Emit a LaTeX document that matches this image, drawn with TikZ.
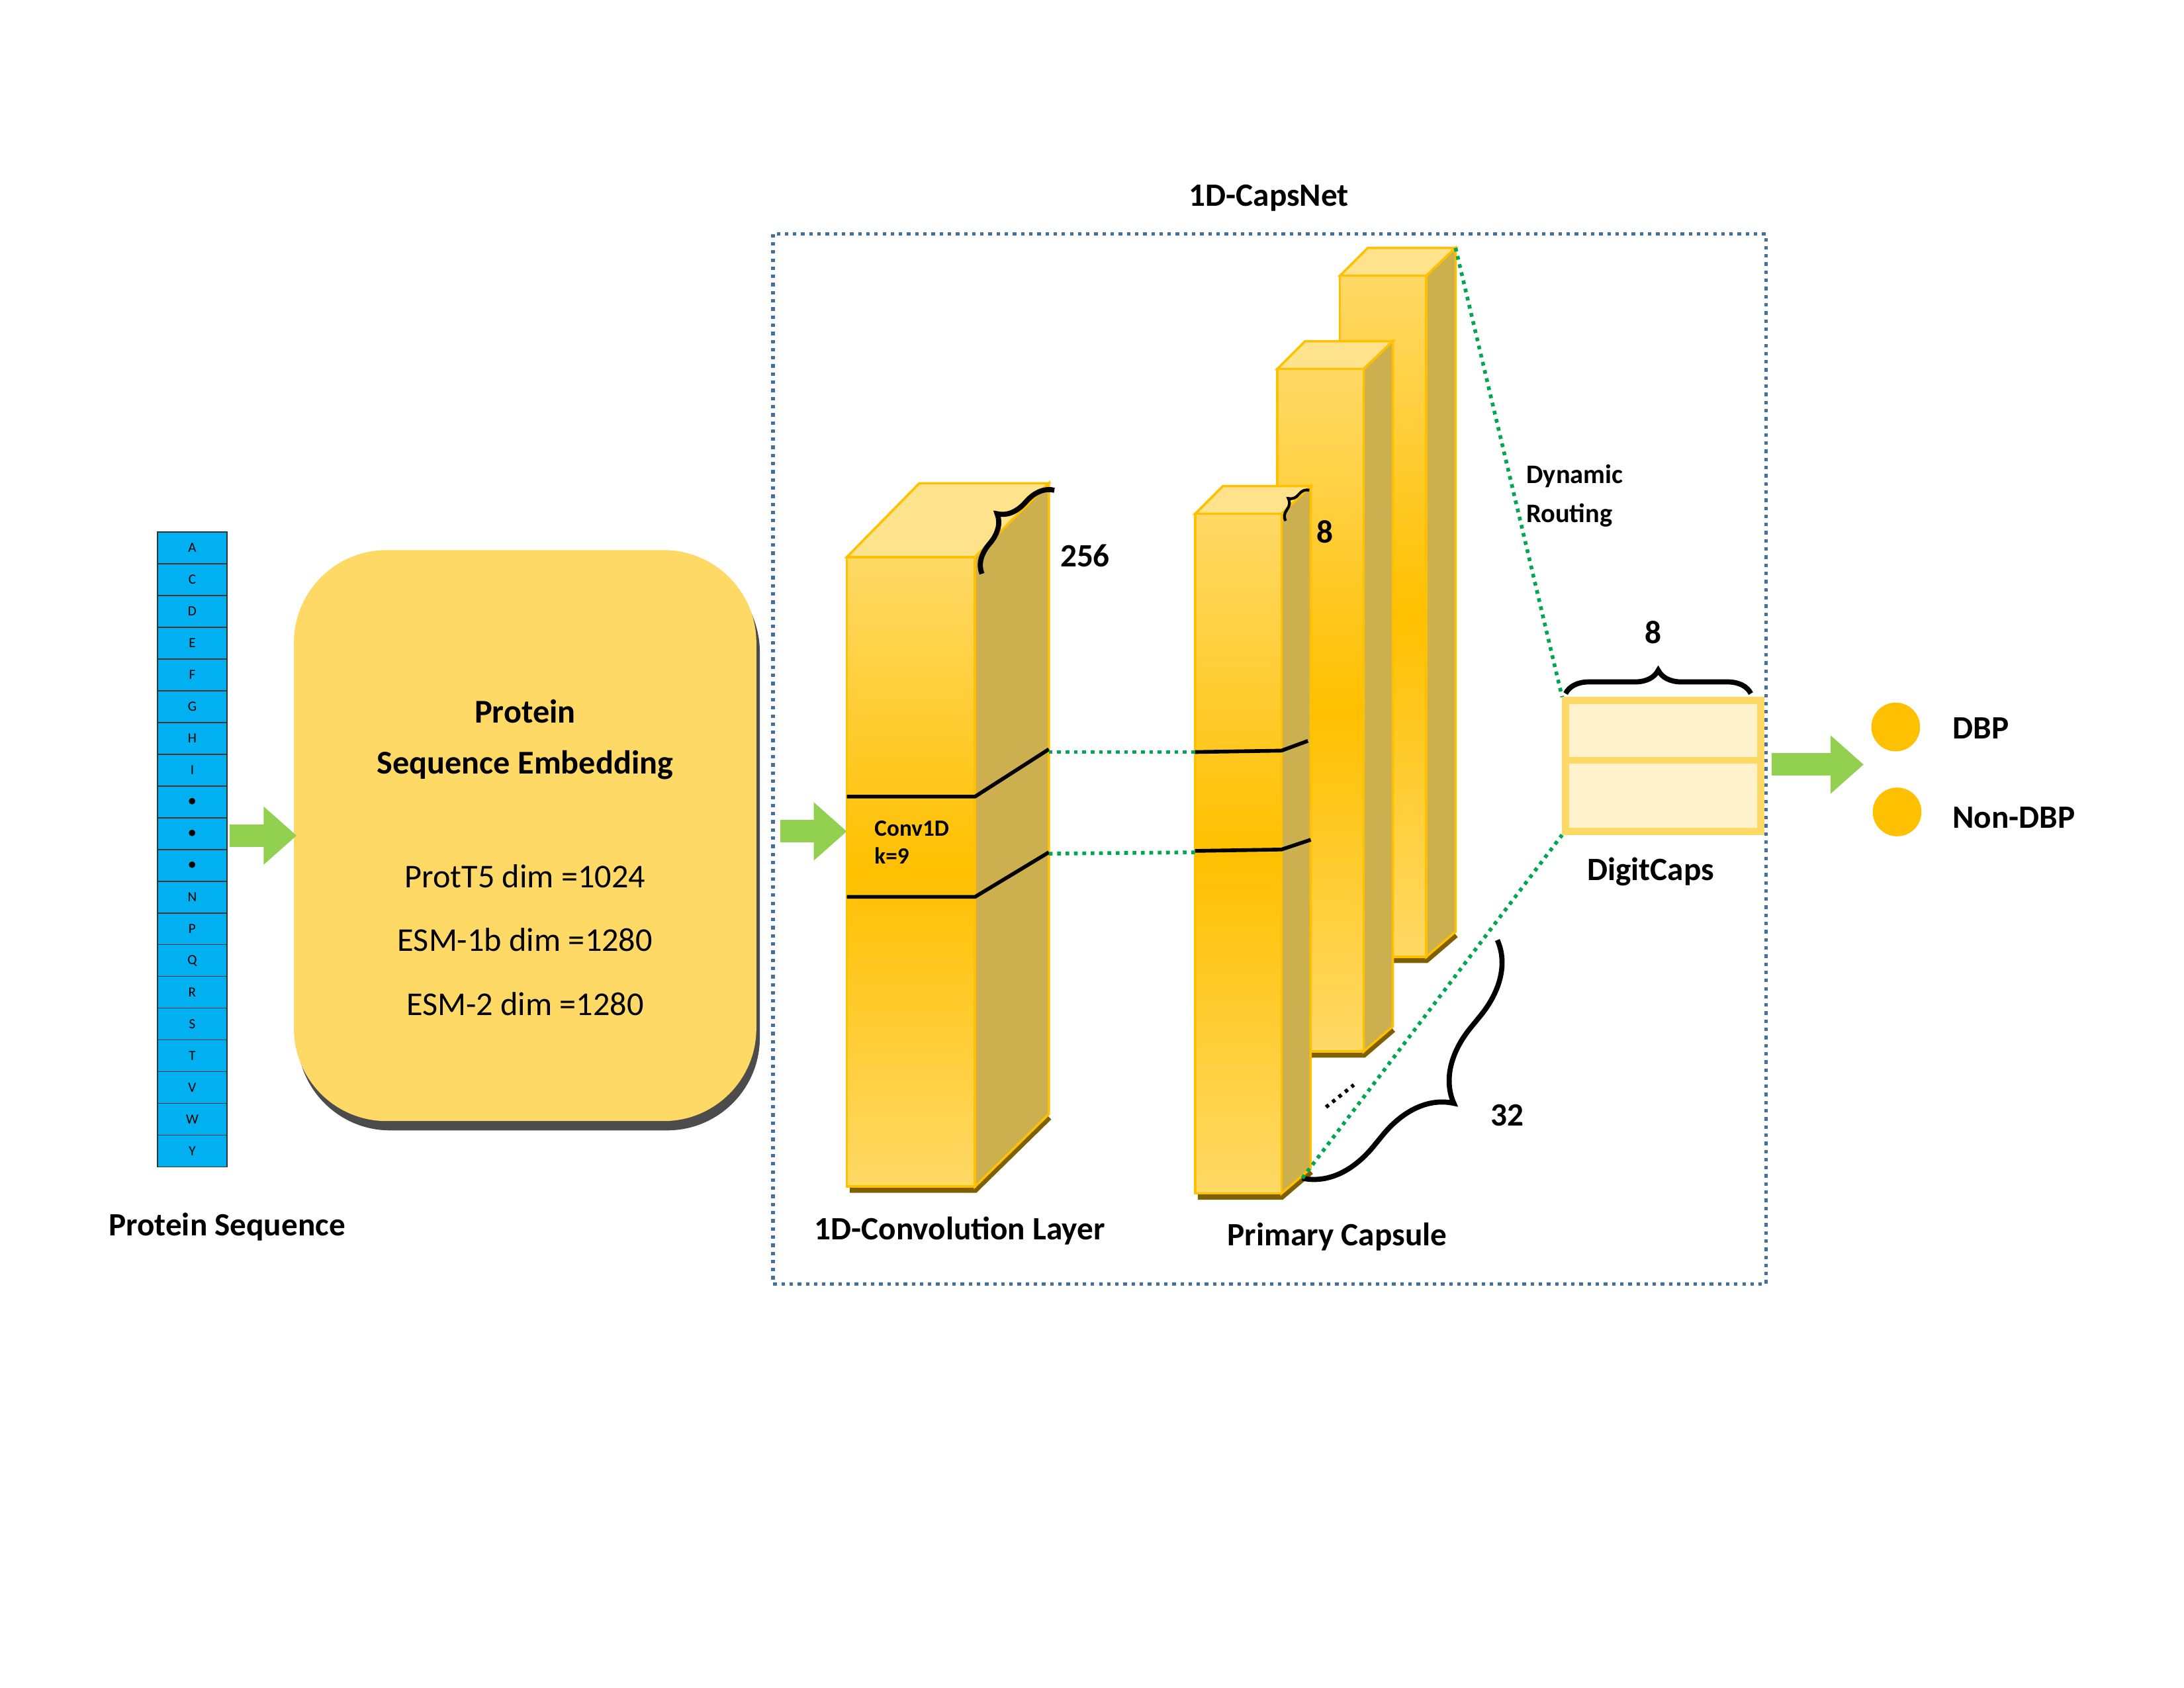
\documentclass[tikz,border=0pt]{standalone}
\usepackage{fontspec}
\setmainfont{Carlito}
\usetikzlibrary{arrows.meta,decorations.pathreplacing,shadows}
\definecolor{gold}{HTML}{FFC000}
\definecolor{lgold}{HTML}{FFD966}
\definecolor{tgold}{HTML}{FFE38C}
\definecolor{sgold}{HTML}{CCB050}
\definecolor{brn}{HTML}{7F6000}
\definecolor{cyanb}{HTML}{00B0F0}
\definecolor{grn}{HTML}{92D050}
\definecolor{dgrn}{HTML}{00A651}
\definecolor{frame}{HTML}{41719C}
\definecolor{pale}{HTML}{FFF2CC}
\tikzset{
 lbl/.style={font=\fontsize{14}{16}\selectfont\bfseries},
 big/.style={-{Triangle[length=0.5cm,width=0.85cm]},grn,line width=0.34cm},
 route/.style={dgrn,line width=1.6pt,dotted},
 brc/.style={decorate,decoration={brace,amplitude=#1},line width=2.2pt},
 front/.style={top color=lgold,bottom color=lgold,middle color=gold,draw=gold,line width=1pt},
 side/.style={fill=sgold,draw=gold,line width=1pt},
 topf/.style={fill=tgold,draw=gold,line width=1pt},
 cut/.style={line width=1.6pt,black},
 emtxt/.style={font=\fontsize{14.3}{17}\selectfont},
}
\begin{document}
\begin{tikzpicture}[x=0.021046cm,y=-0.021046cm]
\useasboundingbox (0,0) rectangle (1568,1212);
% sequence
\foreach \l [count=\i from 0] in {A,C,D,E,F,G,H,I,$\bullet$,$\bullet$,$\bullet$,N,P,Q,R,S,T,V,W,Y}{
 \node[draw=black!80,fill=cyanb,minimum width=50*0.021046cm,minimum height=22.8*0.021046cm,inner sep=0,outer sep=0,font=\fontsize{6}{6}\selectfont,anchor=north west] (s\i) at (113,382+22.8*\i) {\l};}
\node[lbl] (pseq) at (163,881) {Protein Sequence};
% embedding box
\node[fill=lgold,rounded corners=1.4cm,minimum width=332*0.021046cm,minimum height=410*0.021046cm,
 drop shadow={shadow xshift=1.5pt,shadow yshift=-4pt,fill=black!70,opacity=1}] (emb) at (377,600) {};
\node[emtxt,font=\fontsize{14.3}{17}\selectfont\bfseries,align=center] at (377,531) {Protein\\[5pt]Sequence Embedding};
\node[emtxt] at (377,629) {ProtT5 dim =1024};
\node[emtxt] at (377,675) {ESM-1b dim =1280};
\node[emtxt] at (377,721) {ESM-2 dim =1280};
\coordinate (a1s) at (165,600); \coordinate (a1e) at (213,600);
\draw[big] (a1s) -- (a1e);
\coordinate (a2s) at (560,597); \coordinate (a2e) at (608,597);
\draw[big] (a2s) -- (a2e);
% frame
\draw[frame,line width=1.5pt,dotted] (555,168) rectangle (1268,922);
\node[lbl] at (911,142) {1D-CapsNet};
% conv block
\draw[brn,line width=3pt] (610,854) -- (700,854) -- (753,802);
\fill[topf] (608,400) -- (660,347) -- (753,347) -- (700,400) -- cycle;
\fill[side] (700,400) -- (753,347) -- (753,800) -- (700,852) -- cycle;
\path[front] (608,400) rectangle (700,852);
\draw[cut] (608,572) -- (700,572) -- (753,538);
\draw[cut] (608,644) -- (700,644) -- (753,612);
\node[font=\fontsize{10}{12}\selectfont\bfseries,align=left,anchor=west] at (622,605) {Conv1D\\k=9};
\draw[brc=12pt] (705,412) -- (757,352);
\node[lbl] at (779,399) {256};
\node[lbl] at (689,884) {1D-Convolution Layer};
% capsules
\foreach \x/\y/\b in {962/198/687, 917/265/755, 858/369/857}{
 \draw[brn,line width=3pt] (\x+2,\b+2) -- (\x+62,\b+2) -- (\x+83,\b-16);
 \fill[topf] (\x,\y) -- (\x+20,\y-20) -- (\x+83,\y-20) -- (\x+62,\y) -- cycle;
 \fill[side] (\x+62,\y) -- (\x+83,\y-20) -- (\x+83,\b-18) -- (\x+62,\b) -- cycle;
 \path[front] (\x,\y) rectangle (\x+62,\b);
}
\draw[cut] (858,540) -- (920,539) -- (939,532);
\draw[cut] (858,611) -- (920,610) -- (941,603);
\coordinate (c1a) at (753,540); \coordinate (c1b) at (858,540);
\coordinate (c2a) at (753,613); \coordinate (c2b) at (858,612);
\draw[route] (c1a) -- (c1b);
\draw[route] (c2a) -- (c2b);
\draw[brc=5pt,line width=1.2pt] (923,374) -- (940,352);
\node[lbl] at (951,382) {8};
\draw[line width=1.6pt,dash pattern=on 1.5pt off 2pt] (952,795) -- (972,779);
\draw[brc=30pt] (1075,675) -- (935,846);
\node[lbl] at (1082,801) {32};
\node[lbl] at (960,888) {Primary Capsule};
% digitcaps
\node[draw=lgold,line width=3pt,fill=pale,minimum width=140*0.021046cm,minimum height=94*0.021046cm,inner sep=0] (dc) at (1194,550) {};
\draw[lgold,line width=3pt] (dc.west) ++(0,-4) -- ++(140,0);
\draw[brc=10pt] (1124,498) -- (1257,498);
\node[lbl] at (1187,454) {8};
\node[lbl] at (1185,626) {DigitCaps};
\coordinate (pt) at (1045,178); \coordinate (pb) at (935,846);
\draw[route] (pt) -- (dc.north west);
\draw[route] (pb) -- (dc.south west);
\node[font=\fontsize{11.5}{13}\selectfont\bfseries,anchor=west,align=left] at (1090,356) {Dynamic\\[4pt]Routing};
% output
\coordinate (a3s) at (1272,549);
\draw[big] (a3s) -- (1338,549);
\node[circle,fill=gold,minimum size=35*0.021046cm] (o1) at (1361,522) {};
\node[circle,fill=gold,minimum size=35*0.021046cm] (o2) at (1362,583) {};
\node[lbl,anchor=west] at (1396,523) {DBP};
\node[lbl,anchor=west] at (1396,587) {Non-DBP};
\end{tikzpicture}
\end{document}
